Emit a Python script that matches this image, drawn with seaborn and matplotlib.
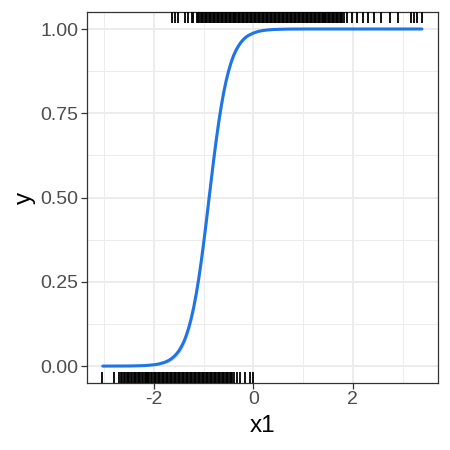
import numpy as np
import pandas as pd
import seaborn as sns
import matplotlib.pyplot as plt

# valores lidos do grafico
# curva ajustada (glm binomial) e faixa de confianca
curva_x = [-3.03, -2.5, -2.2, -2.0, -1.9, -1.8, -1.75, -1.7, -1.65, -1.6,
           -1.55, -1.5, -1.45, -1.4, -1.35, -1.3, -1.25, -1.2, -1.15, -1.1,
           -1.05, -1.0, -0.95, -0.9, -0.85, -0.8, -0.75, -0.7, -0.65, -0.6,
           -0.55, -0.5, -0.45, -0.4, -0.35, -0.3, -0.25, -0.2, -0.15, -0.1,
           0.0, 0.1, 0.2, 0.3, 0.4, 0.55, 0.7, 1.0, 2.0, 3.39]
curva_y = [0.0, 0.0003, 0.0014, 0.0039, 0.0064, 0.0105, 0.0134, 0.0171, 0.0219, 0.028,
           0.0356, 0.045, 0.0573, 0.072, 0.0911, 0.114, 0.1419, 0.175, 0.2142, 0.259,
           0.310, 0.366, 0.4256, 0.488, 0.5498, 0.611, 0.6682, 0.721, 0.7685, 0.810,
           0.8455, 0.875, 0.9002, 0.921, 0.937, 0.950, 0.9609, 0.969, 0.9759, 0.981,
           0.988, 0.993, 0.9957, 0.9974, 0.9984, 0.99925, 0.9997, 1.0, 1.0, 1.0]
banda_inf = [0.0, 0.0001, 0.0006, 0.0019, 0.0034, 0.0065, 0.0084, 0.0111, 0.0149, 0.020,
             0.0266, 0.035, 0.0463, 0.060, 0.0781, 0.100, 0.1269, 0.159, 0.1972, 0.241,
             0.291, 0.346, 0.4046, 0.466, 0.5278, 0.589, 0.6472, 0.701, 0.7505, 0.794,
             0.8315, 0.863, 0.8902, 0.912, 0.929, 0.943, 0.9549, 0.964, 0.9719, 0.977,
             0.985, 0.991, 0.9942, 0.9964, 0.9977, 0.99885, 0.9995, 1.0, 1.0, 1.0]
banda_sup = [0.0, 0.0005, 0.0022, 0.0059, 0.0094, 0.0145, 0.0184, 0.0231, 0.0289, 0.036,
             0.0446, 0.055, 0.0683, 0.084, 0.1041, 0.128, 0.1569, 0.191, 0.2312, 0.277,
             0.329, 0.386, 0.4466, 0.510, 0.5718, 0.633, 0.6892, 0.741, 0.7865, 0.826,
             0.8595, 0.887, 0.9102, 0.930, 0.945, 0.957, 0.9669, 0.974, 0.9799, 0.985,
             0.991, 0.995, 0.9972, 0.9984, 0.9991, 0.99965, 0.9999, 1.0, 1.0, 1.0]

# observacoes com y = 0 (rug inferior)
x_y0 = [-3.04, -2.80, -2.70, -2.67, -2.64, -2.61, -2.58,
        -2.55, -2.53, -2.50, -2.47, -2.45, -2.41, -2.38, -2.36, -2.33, -2.30, -2.28, -2.25,
        -2.22, -2.19, -2.17, -2.14, -2.11, -2.09, -2.06, -2.03, -2.00, -1.98, -1.95, -1.92,
        -1.90, -1.87, -1.84, -1.82, -1.79, -1.76, -1.74, -1.71, -1.68, -1.66, -1.63, -1.60,
        -1.58, -1.55, -1.52, -1.50, -1.47, -1.44, -1.42, -1.39, -1.36, -1.34, -1.31, -1.28,
        -1.26, -1.23, -1.20, -1.18, -1.15, -1.12, -1.10, -1.07, -1.04, -1.02, -0.99, -0.96,
        -0.94, -0.91, -0.88, -0.86, -0.83, -0.80, -0.78, -0.75, -0.72, -0.70, -0.67, -0.64,
        -0.62, -0.59, -0.56, -0.54, -0.51, -0.48, -0.46, -0.43,
        -0.40, -0.33, -0.26, -0.16, -0.06, -0.01]

# observacoes com y = 1 (rug superior)
x_y1 = [-1.64, -1.58, -1.51, -1.37, -1.31, -1.24, -1.21,
        -1.14, -1.11, -1.09, -1.06, -1.03, -1.01, -0.98, -0.95, -0.93, -0.90, -0.87, -0.85,
        -0.82, -0.79, -0.77, -0.74, -0.71, -0.69, -0.66, -0.63, -0.61, -0.58, -0.55, -0.53,
        -0.50, -0.47, -0.45, -0.42, -0.39, -0.37, -0.34, -0.31, -0.29, -0.26, -0.23, -0.21,
        -0.18, -0.15, -0.13, -0.10, -0.07, -0.05, -0.02, 0.01, 0.03, 0.06, 0.09, 0.11,
        0.14, 0.17, 0.19, 0.22, 0.25, 0.27, 0.30, 0.33, 0.35, 0.38, 0.41, 0.43,
        0.46, 0.49, 0.51, 0.54, 0.57, 0.59, 0.62, 0.65, 0.67, 0.70, 0.73, 0.75,
        0.78, 0.81, 0.83, 0.86, 0.89, 0.91, 0.94, 0.97, 0.99, 1.02, 1.05, 1.07,
        1.10, 1.13, 1.15, 1.18, 1.21, 1.23, 1.26, 1.29, 1.31, 1.34, 1.37, 1.39,
        1.42, 1.45, 1.47, 1.50, 1.53, 1.55, 1.58, 1.61, 1.63, 1.66, 1.69, 1.71,
        1.74, 1.77, 1.79, 1.82,
        1.89, 1.99, 2.09, 2.20, 2.30, 2.43, 2.57, 2.74, 2.90, 3.17, 3.24, 3.30, 3.39]

x_ticks = [-2, 0, 2]
x_tick_labels = ['-2', '0', '2']
y_ticks = [0.0, 0.25, 0.5, 0.75, 1.0]
y_tick_labels = ['0.00', '0.25', '0.50', '0.75', '1.00']

# %%
sns.set_theme(style='white')
plt.rcParams['font.family'] = ['Liberation Sans', 'DejaVu Sans']
plt.rcParams['axes.unicode_minus'] = False

df_curva = pd.DataFrame({'x1': curva_x, 'y': curva_y})

fig = plt.figure(figsize=(4.5, 4.5), dpi=100)
ax = fig.add_axes([0.193, 0.149, 0.78, 0.824])

# faixa de confianca + curva
ax.fill_between(curva_x, banda_inf, banda_sup, color='#999999', alpha=0.4, linewidth=0, zorder=2)
sns.lineplot(data=df_curva, x='x1', y='y', color='#1F74E6', linewidth=2.2, ax=ax, zorder=3)

# rug inferior e superior
sns.rugplot(x=x_y0, height=0.03, color='black', linewidth=1.3, ax=ax, zorder=4)
ax.vlines(x_y1, 0.97, 1.0, transform=ax.get_xaxis_transform(), color='black', linewidth=1.3, zorder=4)

ax.set_xlim(-3.35, 3.71)
ax.set_ylim(-0.05, 1.05)
ax.set_xticks(x_ticks)
ax.set_xticklabels(x_tick_labels)
ax.set_yticks(y_ticks)
ax.set_yticklabels(y_tick_labels)
ax.set_xticks([-3, -1, 1, 3], minor=True)
ax.set_yticks([0.125, 0.375, 0.625, 0.875], minor=True)

# estilo theme_bw
ax.set_facecolor('white')
ax.grid(which='major', color='#EBEBEB', linewidth=1.3, zorder=0)
ax.grid(which='minor', color='#EBEBEB', linewidth=0.65, zorder=0)
ax.set_axisbelow(True)
for s in ax.spines.values():
    s.set_color('#333333')
    s.set_linewidth(0.9)
ax.tick_params(which='major', length=4, width=0.9, color='#333333',
               labelsize=14, labelcolor='#4D4D4D', pad=2, bottom=True, left=True)
ax.tick_params(which='minor', length=0)

ax.set_xlabel('x1', fontsize=17.5, color='black', labelpad=5)
ax.set_ylabel('y', fontsize=17.5, color='black', labelpad=3)

fig.savefig('out.png', dpi=100)
